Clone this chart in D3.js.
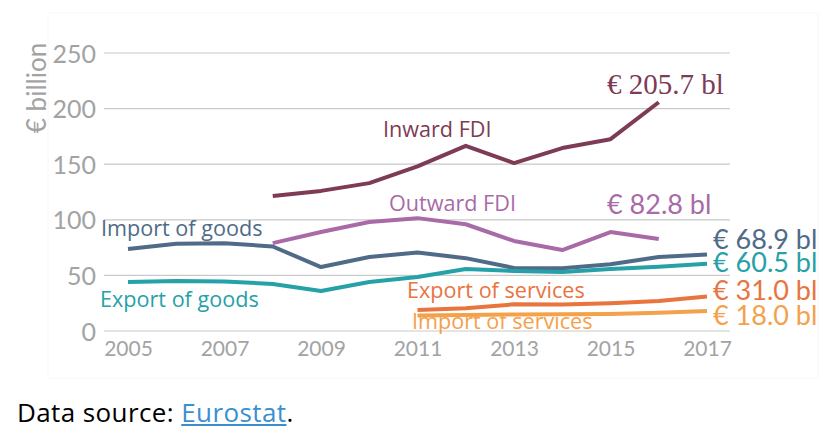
<!DOCTYPE html>
<html>
<head>
<meta charset="utf-8">
<script src="https://cdn.jsdelivr.net/npm/d3@7"></script>
<style>
  body { margin: 0; background: #fff; }
  svg text { font-family: Lato, "Open Sans", sans-serif; }
  .src { position: absolute; left: 17px; top: 394px; font-family: "Open Sans", sans-serif; font-size: 26px; letter-spacing: 0.4px; color: #000; }
  .src a { color: #3a8fd0; text-decoration: underline; }
</style>
</head>
<body>
<svg id="chart" width="835" height="385"></svg>
<div class="src">Data source: <a href="#">Eurostat</a>.</div>
<script>
const years = d3.range(2005, 2018)
const yTicks = [0, 50, 100, 150, 200, 250]
const xTicks = [2005, 2007, 2009, 2011, 2013, 2015, 2017]

// values in € billion, null where there is no data
const inwardFDI    = [null, null, null, 121.5, 126, 133, 148, 166.5, 151, 164.5, 172.5, 205.7, null]
const outwardFDI   = [null, null, null, 79, 89, 98, 101.5, 96, 81, 72.8, 89, 82.8, null]
const importGoods  = [73.7, 78.5, 79, 76, 57.5, 66.5, 70.5, 65.5, 56.7, 56.5, 60, 66.5, 68.9]
const exportGoods  = [44, 45, 44.5, 42.3, 36, 44, 48.5, 55.7, 54, 53, 55.7, 57.8, 60.5]
const exportServ   = [null, null, null, null, null, null, 18.9, 20.5, 24, 23.8, 25, 27, 31.0]
const importServ   = [null, null, null, null, null, null, 14, 14.5, 14.8, 15, 15.3, 16.5, 18.0]

const series = [
  {name: "Inward FDI", values: inwardFDI, color: "#7e3b56"},
  {name: "Outward FDI", values: outwardFDI, color: "#a96aa8"},
  {name: "Import of goods", values: importGoods, color: "#4f6b88"},
  {name: "Export of goods", values: exportGoods, color: "#25a1a7"},
  {name: "Export of services", values: exportServ, color: "#e8743e"},
  {name: "Import of services", values: importServ, color: "#f4a14c"}
]

const svg = d3.select("#chart")

const x = d3.scaleLinear().domain([2005, 2017]).range([128, 707])
const y = d3.scaleLinear().domain([0, 250]).range([331, 53])

// faint frame
svg.append("rect")
  .attr("x", 48).attr("y", 13).attr("width", 770).attr("height", 365)
  .attr("fill", "none").attr("stroke", "#f7f7f7")

// gridlines
svg.append("g").selectAll("line")
  .data(yTicks).join("line")
  .attr("x1", 104).attr("x2", 730)
  .attr("y1", d => y(d)).attr("y2", d => y(d))
  .attr("stroke", "#c9c9c9").attr("stroke-width", 1.2)

// y axis
const yAxis = svg.append("g")
  .attr("transform", "translate(96,0)")
  .call(d3.axisLeft(y).tickValues(yTicks).tickSize(0).tickPadding(0))
yAxis.select(".domain").remove()
yAxis.selectAll("text")
  .attr("font-size", 25).attr("fill", "#a3a3a3")
  .attr("font-family", "Lato").attr("dy", "0.36em")

// x axis
const xAxis = svg.append("g")
  .attr("transform", "translate(0,331)")
  .call(d3.axisBottom(x).tickValues(xTicks).tickFormat(d3.format("d")).tickSize(0).tickPadding(10))
xAxis.select(".domain").remove()
xAxis.selectAll("text")
  .attr("font-size", 21).attr("fill", "#a3a3a3").attr("font-family", "Lato")

// y title
svg.append("text")
  .attr("transform", "translate(46,88) rotate(-90)")
  .attr("text-anchor", "middle")
  .attr("font-size", 26).attr("fill", "#a3a3a3")
  .text("€ billion")

// lines
const line = d3.line()
  .defined(d => d != null)
  .x((d, i) => x(years[i]))
  .y(d => y(d))

svg.append("g").selectAll("path")
  .data(series).join("path")
  .attr("d", d => line(d.values))
  .attr("fill", "none")
  .attr("stroke", d => d.color)
  .attr("stroke-width", 4)
  .attr("stroke-linejoin", "round")

// series labels
const nameLabels = [
  {text: "Inward FDI", x: 383, y: 137, s: 0},
  {text: "Outward FDI", x: 389, y: 211, s: 1},
  {text: "Import of goods", x: 101, y: 236, s: 2},
  {text: "Export of goods", x: 100, y: 307, s: 3},
  {text: "Export of services", x: 407, y: 298, s: 4},
  {text: "Import of services", x: 412, y: 329, s: 5}
]
svg.append("g").selectAll("text")
  .data(nameLabels).join("text")
  .attr("x", d => d.x).attr("y", d => d.y)
  .attr("font-size", 21.6)
  .style("font-family", "'Open Sans', sans-serif")
  .attr("fill", d => series[d.s].color)
  .text(d => d.text)

// end-value labels
const lastVal = s => s.values.filter(v => v != null).slice(-1)[0]
const valueLabels = [
  {s: 0, x: 607, y: 94, serif: true},
  {s: 1, x: 607, y: 214},
  {s: 2, x: 713, y: 249},
  {s: 3, x: 713, y: 272},
  {s: 4, x: 713, y: 300},
  {s: 5, x: 713, y: 325}
]
svg.append("g").selectAll("text")
  .data(valueLabels).join("text")
  .attr("x", d => d.x).attr("y", d => d.y)
  .attr("font-size", d => d.serif ? 29 : 27)
  .style("font-family", d => d.serif ? "'Liberation Serif', serif" : "Lato, sans-serif")
  .attr("fill", d => series[d.s].color)
  .text(d => "€ " + d3.format(".1f")(lastVal(series[d.s])) + " bl")
</script>
</body>
</html>
